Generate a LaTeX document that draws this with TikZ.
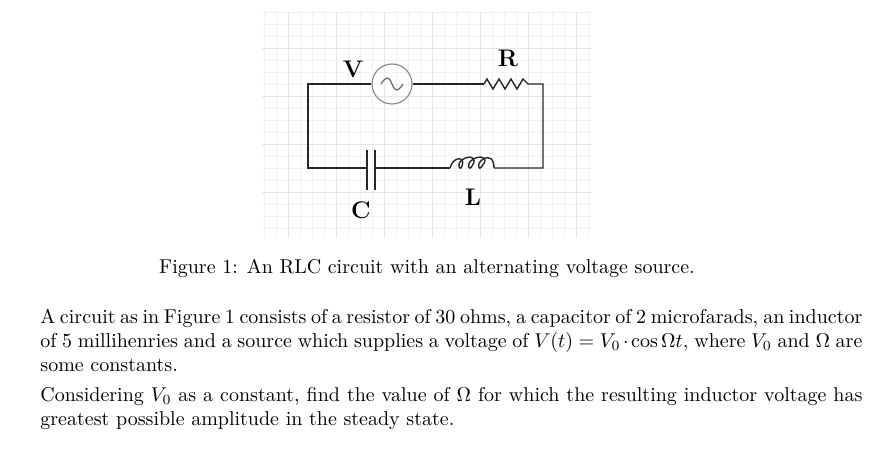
\documentclass[tikz,border=0pt]{standalone}
\usetikzlibrary{decorations.pathmorphing}
\begin{document}
\begin{tikzpicture}[x=0.5pt,y=-0.5pt,
  wire/.style={line width=0.7pt,black!85},
  lbl/.style={font=\bfseries\large},
  txt/.style={anchor=base west,inner sep=0pt,font=\fontsize{10}{12}\selectfont}]
\useasboundingbox (0,0) rectangle (895,476);
\draw[black!5,line width=0.3pt,step=6pt] (262,12) grid (592,238);
\draw[black!10,line width=0.3pt,step=24pt] (262,12) grid (592,238);
\coordinate (tl) at (308,84); \coordinate (tr) at (543,84);
\coordinate (bl) at (308,168); \coordinate (br) at (543,168);
\node[circle,draw=black!45,line width=0.6pt,minimum size=20pt,inner sep=0pt] (src) at (392,84) {};
\draw[black!60,line width=0.6pt] (381,84) .. controls (386,76) and (389,76) .. (392,84) .. controls (395,92) and (398,92) .. (403,84);
\coordinate (r1) at (484,84); \coordinate (r2) at (531,84);
\coordinate (ca) at (367,168); \coordinate (cb) at (375,168);
\coordinate (l1) at (450,168); \coordinate (l2) at (494,168);
\draw[wire] (src.west) -- (tl) -- (bl) -- (ca);
\draw[wire] (cb) -- (l1);
\draw[wire] (src.east) -- (r1);
\draw[wire] (r1) -- ++(3,-5) -- ++(6,10) -- ++(6,-10) -- ++(6,10) -- ++(6,-10) -- ++(6,10) -- ++(6,-10) -- ++(5,5) -- (r2) -- (tr) -- (br) -- (l2);
\draw[wire] (l1) .. controls (453,156) and (466,156) .. (462,166) .. controls (460,172) and (456,164) .. (462,160)
  .. controls (470,154) and (478,158) .. (472,166) .. controls (469,172) and (466,164) .. (472,160)
  .. controls (480,154) and (490,158) .. (482,166) .. controls (479,172) and (476,164) .. (482,160)
  .. controls (490,154) and (494,160) .. (l2);
\draw[wire,line width=1pt] (367,150) -- (367,190) (375,150) -- (375,190);
\node[lbl] (lv) at (353,69) {V};
\node[lbl] (lr) at (508,58) {R};
\node[lbl] (ll) at (473,197) {L};
\node[lbl] (lc) at (361,210) {C};
\node[txt,anchor=base] (cap) at (427,273) {\fontsize{10}{12}\selectfont Figure 1: An RLC circuit with an alternating voltage source.};
\node[txt] (p1) at (40,323) {\parbox[t]{411pt}{\fontsize{10}{12}\selectfont A circuit as in Figure 1 consists of a resistor of 30 ohms, a capacitor of 2 microfarads, an inductor\linebreak of 5 millihenries and a source which supplies a voltage of $V(t)=V_0\cdot\cos\Omega t$, where $V_0$ and $\Omega$ are\linebreak some constants.}};
\node[txt] (p2) at (40,401) {\parbox[t]{411pt}{\fontsize{10}{12}\selectfont Considering $V_0$ as a constant, find the value of $\Omega$ for which the resulting inductor voltage has\linebreak greatest possible amplitude in the steady state.}};
\end{tikzpicture}
\end{document}
